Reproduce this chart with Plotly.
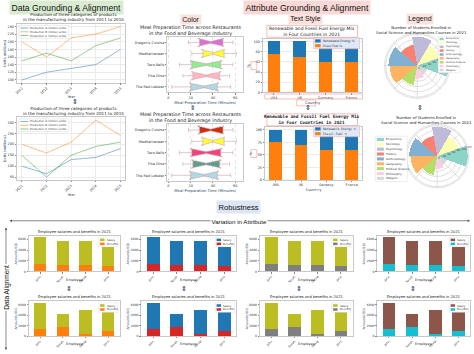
import plotly.graph_objects as go

W, H = 474, 354

# ---------------- DATA ----------------
years = [2011, 2012, 2013, 2014, 2015]
series_names = ["Production A (million units)", "Production B (million units)", "Production C (million units)"]
prod_a_orig = [100, 120, 130, 140, 180]
prod_b_orig = [200, 160, 210, 220, 240]
prod_c_orig = [150, 170, 150, 190, 210]
prod_a_mod = [100, 65, 130, 140, 180]
prod_b_mod = [200, 160, 210, 310, 240]
prod_c_mod = [150, 50, 150, 190, 210]
line_colors = ["#1f77b4", "#ff7f0e", "#2ca02c"]

restaurants = ["Dragon's Cuisine", "Mediterranean", "Taco Bells", "Fine Dine", "The Red Lobster"]
prep_low = [18, 21, 10, 13, 3]
prep_q1 = [28, 31, 21, 22, 20]
prep_median = [38, 40, 34, 34, 32]
prep_q3 = [49, 50, 47, 46, 44]
prep_high = [58, 61, 58, 55, 56]
box_colors_orig = ["#da70d6", "#ffff33", "#90ee90", "#ffb6c1", "#add8e6"]
box_colors_mod = ["#cf2d0c", "#ffff33", "#f2417b", "#5f9e8f", "#add8e6"]

countries = ["USA", "UK", "Germany", "France"]
renewable = [25, 30, 40, 40]
fossil = [75, 70, 60, 60]
energy_names = ["Renewable Energy %", "Fossil Fuel %"]

subjects = ["Economics", "Sociology", "Psychology", "History", "Anthropology",
            "Geography", "Political Science", "Philosophy", "Religion"]
students_orig = [120, 90, 110, 80, 110, 105, 75, 50, 40]
students_mod = [120, 90, 115, 80, 110, 105, 75, 50, 40]
set3 = ["#8dd3c7", "#ffffb3", "#bebada", "#fb8072", "#80b1d3",
        "#fdb462", "#b3de69", "#fccde5", "#d9d9d9"]

employees = ["John", "Sarah", "David", "Jane"]
salary_orig = [5000, 4500, 4400, 3600]
benefits_orig = [1400, 1200, 1300, 1000]
salary_mod = [5000, 2400, 4600, 3600]
benefits_mod = [1400, 1800, 400, 1000]
emp_palettes = [("#bcbd22", "#ff7f0e"), ("#1f77b4", "#d62728"),
                ("#bcbd22", "#7f7f7f"), ("#8c564b", "#17becf")]
pay_names = ["Salary", "Benefits"]

# ---------------- HELPERS ----------------
fig = go.Figure()
layout = {}
annotations = []
shapes = []
FONT = "DejaVu Sans"


def px(x):
    return x / W


def py(y):
    return 1 - y / H


axn = [0]


def new_axes(x0, x1, y0, y1, xa, ya):
    axn[0] += 1
    n = axn[0]
    s = "" if n == 1 else str(n)
    xa = dict(xa)
    ya = dict(ya)
    xa.update(domain=[px(x0), px(x1)], anchor="y" + s)
    ya.update(domain=[py(y1), py(y0)], anchor="x" + s)
    layout["xaxis" + s] = xa
    layout["yaxis" + s] = ya
    return "x" + s, "y" + s


def ax_style(fs=3.4, grid=True, fam=FONT, **kw):
    d = dict(showline=True, mirror=True, linecolor="#c8c8c8", linewidth=0.6,
             showgrid=grid, gridcolor="#ebebeb", gridwidth=0.5, zeroline=False,
             ticks="outside", ticklen=1.5, tickwidth=0.5, tickcolor="#888",
             tickfont=dict(size=fs, color="#333", family=fam))
    d.update(kw)
    return d


def text(t, x, y, size, color="#222", xanchor="center", yanchor="middle", fam=FONT,
         angle=0, bg=None, pad=1, bold=False):
    if bold:
        t = "<b>" + t + "</b>"
    a = dict(text=t, x=px(x), y=py(y), xref="paper", yref="paper", showarrow=False,
             xanchor=xanchor, yanchor=yanchor, textangle=angle,
             font=dict(size=size, color=color, family=fam), borderpad=pad)
    if bg:
        a["bgcolor"] = bg
    annotations.append(a)


def box(x0, y0, x1, y1, color="#f0a0a0", width=0.7, fill=None):
    s = dict(type="rect", xref="paper", yref="paper", x0=px(x0), x1=px(x1),
             y0=py(y1), y1=py(y0), line=dict(color=color, width=width), layer="above")
    if fill:
        s["fillcolor"] = fill
    shapes.append(s)


def legend(x0, y0, w, rowh, labels, colors, fs, kind="rect", bg="white",
           border="#d6d6d6", sw=6, fam=FONT, tcolor="#333"):
    h = rowh * len(labels) + 1.5
    box(x0, y0, x0 + w, y0 + h, color=border, width=0.5, fill=bg)
    for i, (lab, c) in enumerate(zip(labels, colors)):
        yc = y0 + 0.75 + rowh * (i + 0.5)
        if kind == "line":
            shapes.append(dict(type="line", xref="paper", yref="paper",
                               x0=px(x0 + 1.5), x1=px(x0 + 1.5 + sw), y0=py(yc), y1=py(yc),
                               line=dict(color=c, width=0.8), layer="above", opacity=0.7))
        else:
            shapes.append(dict(type="rect", xref="paper", yref="paper",
                               x0=px(x0 + 1.5), x1=px(x0 + 1.5 + sw),
                               y0=py(yc + rowh * 0.32), y1=py(yc - rowh * 0.32),
                               fillcolor=c, line=dict(width=0), layer="above"))
        text(lab, x0 + 2.5 + sw, yc, fs, color=tcolor, xanchor="left", fam=fam, pad=0)


def dbl_arrow(x, y, size=7):
    text("⇕", x, y, size, color="#45566f", bold=True, pad=0)


# ---------------- HEADERS ----------------
HF = "Liberation Sans"
text("Data Grounding &amp; Alignment", 65, 7.5, 8.6, color="#111", fam=HF, bg="#d9ecd2", pad=1.5)
text("Attribute Grounding &amp; Alignment", 306, 7.5, 8.6, color="#111", fam=HF, bg="#f9d8d5", pad=1.5)
text("Color", 190, 19.5, 7, color="#111", fam=HF, bg="#fbe2df", pad=1.2)
text("Text Style", 305, 19.5, 7, color="#111", fam=HF, bg="#fbe2df", pad=1.2)
text("Legend", 420, 19.5, 7, color="#111", fam=HF, bg="#fbe2df", pad=1.2)
text("Robustness", 237, 208, 7.6, color="#111", fam=HF, bg="#dce6f4", pad=1.5)

# ---------------- LINE CHARTS ----------------
line_sets = [((15, 124, 24, 83), (prod_a_orig, prod_b_orig, prod_c_orig), [93, 247], 20, 17.5),
             ((15, 124, 118, 181), (prod_a_mod, prod_b_mod, prod_c_mod), [37, 323], 50, 111.5)]
for (x0, x1, y0, y1), data, yr, dt, ty in line_sets:
    xr, yrf = new_axes(x0, x1, y0, y1,
                       ax_style(range=[2010.8, 2015.2], tickvals=years, tickangle=-45,
                                title=dict(text="Year", font=dict(size=3.6, family=FONT), standoff=1)),
                       ax_style(range=yr, dtick=dt,
                                title=dict(text="Units (millions)", font=dict(size=3.6, family=FONT), standoff=1)))
    for vals, c, nm in zip(data, line_colors, series_names):
        fig.add_trace(go.Scatter(x=years, y=vals, mode="lines", name=nm,
                                 line=dict(color=c, width=0.9), opacity=0.55,
                                 xaxis=xr, yaxis=yrf, showlegend=False))
    text("Production of three categories of products<br>in the manufacturing industry from 2011 to 2015",
         72, ty, 4.1)
    legend(x0 + 2, y0 + 1.5, 50, 3.8, series_names, line_colors, 2.7, kind="line", sw=8)
dbl_arrow(73, 102.5)

# ---------------- BOX PLOTS ----------------
box_sets = [((166, 242, 37, 93), box_colors_orig, 30.5),
            ((166, 242, 125, 182), box_colors_mod, 118.5)]
for (x0, x1, y0, y1), cols, ty in box_sets:
    xr, yrf = new_axes(x0, x1, y0, y1,
                       ax_style(range=[-1, 67], tickvals=[0, 20, 40, 60], gridcolor="#e4e4e4",
                                griddash="dot",
                                title=dict(text="Meal Preparation Time (Minutes)",
                                           font=dict(size=3.8, family=FONT), standoff=1)),
                       ax_style(type="category", categoryorder="array",
                                categoryarray=restaurants[::-1], range=[-0.5, 4.5], showgrid=False,
                                tickfont=dict(size=3.5, color="#333", family=FONT)))
    for i, r in enumerate(restaurants):
        fig.add_trace(go.Box(orientation="h", y=[r], q1=[prep_q1[i]], median=[prep_median[i]],
                             q3=[prep_q3[i]], lowerfence=[prep_low[i]], upperfence=[prep_high[i]],
                             notchspan=[(prep_q3[i] - prep_q1[i]) * 0.56], notched=True,
                             notchwidth=0.4, fillcolor=cols[i], width=0.72, whiskerwidth=0.5,
                             line=dict(color="#c9a3aa", width=0.6), boxpoints=False,
                             xaxis=xr, yaxis=yrf, showlegend=False, name=r))
    text("Meal Preparation Time across Restaurants<br>in the Food and Beverage Industry",
         190, ty, 4.8)
dbl_arrow(191, 108.8, 6.5)

# ---------------- TEXT STYLE BARS ----------------
MONO = "DejaVu Sans Mono"
ts_sets = [((262, 362, 39, 93), [0, 20, 40, 60, 80, 100], FONT, False, 31.5, 38),
           ((264, 362, 128, 181), [0, 25, 50, 75, 100], MONO, True, 120.5, 126.5)]
for k, ((x0, x1, y0, y1), tv, fam, bold, ty, ly) in enumerate(ts_sets):
    xr, yrf = new_axes(x0, x1, y0, y1,
                       ax_style(type="category", range=[-0.43, 3.43], showgrid=False, fam=fam,
                                title=dict(text="Country", font=dict(size=3.8, family=fam), standoff=1)),
                       ax_style(range=[0, 105], tickvals=tv, fam=fam,
                                title=dict(text="%", font=dict(size=3.8, family=fam), standoff=3)))
    fig.add_trace(go.Bar(x=countries, y=fossil, name=energy_names[1], marker_color="#ff7f0e",
                         width=0.5, xaxis=xr, yaxis=yrf, showlegend=False, marker_line_width=0))
    fig.add_trace(go.Bar(x=countries, y=renewable, name=energy_names[0], marker_color="#1f77b4",
                         width=0.5, xaxis=xr, yaxis=yrf, showlegend=False, marker_line_width=0))
    text("Renewable and Fossil Fuel Energy Mix<br>in Four Countries in 2021", 311, ty,
         4.5 if not bold else 4.4, fam=fam, bold=bold, color="#222")
    legend(313, ly, 46, 4.8, energy_names, ["#1f77b4", "#ff7f0e"], 3.0,
           bg="#dfe9f6", border="#f0a0a0", sw=5.5, fam=fam)
    # highlighted text elements
    box(266, ty - 6, 357, ty + 6)
    box(250, (y0 + y1) / 2 - 4, 256, (y0 + y1) / 2 + 4)
box(264, 94.5, 362, 99.5)
box(296, 100.5, 315, 106.5)
dbl_arrow(307, 108.5)

# ---------------- POLAR ROSES ----------------
thetas = [i * 40 for i in range(len(subjects))]
polar_sets = [("polar", (384, 450, 33, 99), students_orig),
              ("polar2", (405, 469, 125, 189), students_mod)]
for name, (x0, x1, y0, y1), vals in polar_sets:
    layout[name] = dict(
        domain=dict(x=[px(x0), px(x1)], y=[py(y1), py(y0)]), bgcolor="white",
        radialaxis=dict(range=[0, 125], dtick=20, angle=22.5, tickangle=22.5,
                        tickfont=dict(size=2.8, color="#444", family=FONT),
                        showline=False, gridcolor="#dedede", gridwidth=0.5, ticks=""),
        angularaxis=dict(direction="counterclockwise", rotation=0, dtick=45,
                         showticklabels=False, ticks="", gridcolor="#dedede", gridwidth=0.5,
                         linecolor="#cfcfcf", linewidth=0.6))
    fig.add_trace(go.Barpolar(r=vals, theta=thetas, width=[40] * len(subjects), marker_color=set3,
                              marker_line_width=0, subplot=name, showlegend=False,
                              text=subjects))
text("Number of Students Enrolled in<br>Social Science and Humanities Courses in 2021",
     421, 30.5, 3.8)
text("Number of Students Enrolled in<br>Social Science and Humanities Courses in 2021",
     426, 120.5, 3.8)
legend(438, 36.5, 22, 3.9, subjects, set3, 2.4, sw=4, border="#dddddd")
legend(375, 137, 32, 4.9, subjects, set3, 2.9, sw=7, border="#dddddd")
dbl_arrow(420, 108.5)

# ---------------- ROBUSTNESS: EMPLOYEE BARS ----------------
cols_px = [(27, 118), (140, 235), (259, 352), (377, 470)]
rows = [((237, 273), salary_orig, benefits_orig, 233), ((303, 338), salary_mod, benefits_mod, 298.5)]
for (ry0, ry1), sal, ben, ty in rows:
    for (cx0, cx1), (csal, cben) in zip(cols_px, emp_palettes):
        xr, yrf = new_axes(cx0, cx1, ry0, ry1,
                           ax_style(type="category", range=[-0.5, 3.5], showgrid=False, tickangle=-45,
                                    fs=3.0),
                           ax_style(range=[0, 6700], tickvals=[0, 2000, 4000, 6000], showgrid=False, fs=3.0,
                                    title=dict(text="Amount(USD)", font=dict(size=3.2, family=FONT), standoff=1)))
        fig.add_trace(go.Bar(x=employees, y=ben, name=pay_names[1], marker_color=cben, width=0.55,
                             xaxis=xr, yaxis=yrf, showlegend=False, marker_line_width=0))
        fig.add_trace(go.Bar(x=employees, y=sal, name=pay_names[0], marker_color=csal, width=0.55,
                             xaxis=xr, yaxis=yrf, showlegend=False, marker_line_width=0))
        text("Employee salaries and benefits in 2021", (cx0 + cx1) / 2, ty, 3.7)
        text("Employee", (cx0 + cx1) / 2, ry1 + 8.2, 3.4)
        legend(cx1 - 21, ry0 + 1.5, 19.5, 4.0, pay_names, [csal, cben], 2.7, sw=4.5, border="#e0e0e0")
for xa in [67, 183, 298, 413]:
    dbl_arrow(xa, 291)

# ---------------- ARROWS / SIDE LABELS ----------------
annotations.append(dict(x=px(470), y=py(222), xref="paper", yref="paper", ax=-462, ay=0,
                        showarrow=True, arrowhead=2, arrowsize=0.7, arrowwidth=0.7,
                        arrowcolor="#555", arrowside="end+start", text=""))
annotations.append(dict(x=px(4), y=py(352), xref="paper", yref="paper", ax=0, ay=-124,
                        showarrow=True, arrowhead=2, arrowsize=0.7, arrowwidth=0.7,
                        arrowcolor="#555", arrowside="end+start", text=""))
text("Variation in Attribute", 238, 222, 6.2, color="#111", fam=HF, bg="white", pad=0.5)
text("Data Alignment", 5, 289, 6.6, color="#111", fam=HF, bg="white", pad=0.5, angle=-90)

layout.update(width=W, height=H, margin=dict(l=0, r=0, t=0, b=0), paper_bgcolor="white",
              plot_bgcolor="white", barmode="stack", showlegend=False,
              annotations=annotations, shapes=shapes, font=dict(family=FONT))
fig.update_layout(**layout)
fig.write_html("out.html")
